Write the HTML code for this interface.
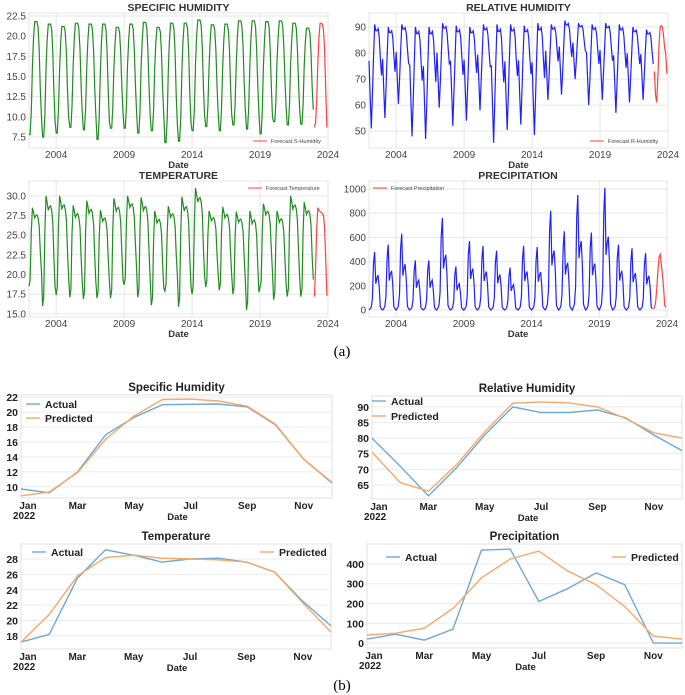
<!DOCTYPE html>
<html><head><meta charset="utf-8">
<style>
body{margin:0;background:#fff;width:685px;height:695px;overflow:hidden;font-family:"Liberation Sans",Arial,sans-serif}
svg{position:absolute;left:0;top:0}
</style></head>
<body>
<svg id="s" width="685" height="695" xmlns="http://www.w3.org/2000/svg">
<text x="342" y="356" font-family="Liberation Serif,serif" font-size="15" text-anchor="middle" fill="#000">(a)</text>
<text x="342" y="690" font-family="Liberation Serif,serif" font-size="15" text-anchor="middle" fill="#000">(b)</text>
</svg>
<script>
// ---------- Data (a): per-year lows/highs 2002..2022 and monthly shape ----------
const years = [2002,2003,2004,2005,2006,2007,2008,2009,2010,2011,2012,2013,2014,2015,2016,2017,2018,2019,2020,2021,2022];
const shProfile = [0,0,0.2,0.6,0.85,1,1,1,0.95,0.75,0.4,0.15];
const shLows = [7.8,7.5,8.0,8.7,8.4,7.2,8.6,8.6,8.0,8.3,6.8,7.0,8.3,8.8,8.3,9.0,8.5,7.9,9.4,9.0,9.1];
const shHighs = [21.8,21.5,21.2,21.6,21.5,21.5,21.1,21.5,21.7,21.1,21.6,21.6,22.0,21.4,21.5,21.9,21.9,21.8,21.9,21.6,21.0];
const shForecast = [8.7,9.2,12,16.5,19.8,21.6,21.6,21.5,20.8,18.3,13.5,8.7];
const rhProfile = [0.65,0.33,0,0.32,0.68,1,0.94,0.94,0.96,0.88,0.68,0.51];
const rhLows = [51,55,60.5,48,47,59,52,54,58,45.5,50.5,52.5,48.5,62,64,70,60,62,57,61,62];
const rhHighs = [91,90,91,90,90,91.5,90.5,90,91,91,91,90.5,91.5,91,92.5,91.5,91,91.5,91,90,89];
const rhForecast = [73,64,61,70,82,90,90.5,90,87,82,80,72];
const tProfile = [0,0.08,0.69,1,0.94,0.87,0.9,0.91,0.87,0.76,0.44,0.18];
const tLows = [18.5,16,17.4,17.1,16.9,17,17,18.7,17.1,16.1,17.9,15.9,17.5,18.4,18,17.5,15.5,18.3,16.8,17.2,17.2];
const tHighs = [28.5,30,30,28.8,29.4,28.2,29.7,30,29.8,28.1,28.7,29.9,31,28.1,28.6,28,28.1,29,28.1,30,29.2];
const tForecast = [17.2,20.5,25.8,28.5,28.2,28.0,27.9,27.8,27.5,26,22,17.3];
const pProfile = [0,0.02,0.05,0.2,0.8,1,0.45,0.55,0.6,0.4,0.05,0.02];
const pLows = [0,0,0,0,0,0,0,0,0,0,0,0,0,0,0,0,0,0,0,0,0];
const pHighs = [480,540,630,410,410,760,360,570,530,490,350,530,520,820,650,950,640,1010,540,510,470];
const pForecast = [10,25,70,180,330,440,460,370,290,180,40,20];
const yearTicks = [2004,2009,2014,2019,2024];

// ---------- Data (b) ----------
const months = ['Jan','Feb','Mar','Apr','May','Jun','Jul','Aug','Sep','Oct','Nov','Dec'];
const monthTicks = ['Jan','Mar','May','Jul','Sep','Nov'];
const shActual = [9.7,9.2,12,17,19.3,21,21.05,21.1,20.7,18.3,13.7,10.5];
const shPred = [8.8,9.3,11.9,16.4,19.5,21.7,21.75,21.5,20.8,18.4,13.7,10.6];
const rhActual = [80,71,61.5,70.5,81,90,88.2,88.2,89,86.5,81,76];
const rhPred = [75.5,65.8,63,71.5,82,91.2,91.6,91.3,90,86.3,81.7,80];
const tActual = [17.2,18.2,25.5,29.2,28.5,27.6,28,28.1,27.6,26.3,22.5,19.3];
const tPred = [17.2,20.8,25.8,28.2,28.5,28.1,28,27.9,27.6,26.3,22.3,18.5];
const pActual = [20,45,15,70,470,475,210,275,355,295,0,0];
const pPred = [40,50,75,175,330,425,465,365,295,185,35,20];

const NS='http://www.w3.org/2000/svg';
const svg=document.getElementById('s');
function el(tag,attrs,parent){const e=document.createElementNS(NS,tag);for(const k in attrs)e.setAttribute(k,attrs[k]);(parent||svg).appendChild(e);return e;}
function txt(x,y,s,attrs,parent){const e=el('text',Object.assign({x:x,y:y},attrs),parent);e.textContent=s;return e;}

function buildSeries(profile,lows,highs){
  const out=[];
  for(let i=0;i<years.length;i++)for(let m=0;m<12;m++)out.push({t:years[i]+m/12,v:lows[i]+(highs[i]-lows[i])*profile[m]});
  return out;
}

function topChart(o){
  const g=el('g',{});
  
  
  const X=t=>o.x0+(t-2002)/22*(o.x1-o.x0);
  const Y=v=>o.y1-(v-o.vmin)/(o.vmax-o.vmin)*(o.y1-o.y0);
  el('rect',{x:o.x0,y:o.y0,width:o.x1-o.x0,height:o.y1-o.y0,fill:'#fff',stroke:'#e4e4e4','stroke-width':1},g);
  yearTicks.forEach(yr=>{const x=X(yr);el('line',{x1:x,x2:x,y1:o.y0,y2:o.y1,stroke:'#e6e6e6','stroke-width':1},g);
    const t=txt(x,o.y1+10,String(yr),{'font-size':10,fill:'#444','text-anchor':'middle'},g);
    });
  o.ticks.forEach(v=>{const y=Y(v);el('line',{x1:o.x0,x2:o.x1,y1:y,y2:y,stroke:'#e6e6e6','stroke-width':1},g);
    const t=txt(o.x0-3,y+3.5,o.fmt(v),{'font-size':10,fill:'#444','text-anchor':'end'},g);
    });
  const tt=txt((o.x0+o.x1)/2,o.y0-2,o.title,{'font-size':10.5,'font-weight':'bold',fill:'#333','text-anchor':'middle'},g);
  
  const xl=txt((o.x0+o.x1)/2,o.y1+20,'Date',{'font-size':9.5,'font-weight':'bold',fill:'#333','text-anchor':'middle'},g);
  
  const s=o.series;
  const p=el('path',{d:s.map((d,i)=>(i?'L':'M')+X(d.t).toFixed(1)+','+Y(d.v).toFixed(1)).join(''),fill:'none',stroke:o.color,'stroke-width':1.2},g);
  
  const f=el('path',{d:o.forecast.map((v,i)=>(i?'L':'M')+X(2023+i/12).toFixed(1)+','+Y(v).toFixed(1)).join(''),fill:'none',stroke:'#ff4040','stroke-width':1.2},g);
  
  const lg=el('g',{},g);
  el('line',{x1:o.lx,x2:o.lx+14,y1:o.ly,y2:o.ly,stroke:'#ff4040','stroke-width':1},lg);
  txt(o.lx+18,o.ly+2,o.legend,{'font-size':5.5,fill:'#444'},lg);
}

topChart({name:'specific-humidity-chart',title:'SPECIFIC HUMIDITY',x0:29,x1:328,y0:13,y1:148,vmin:6.14,vmax:22.87,ticks:[7.5,10,12.5,15,17.5,20,22.5],fmt:v=>v.toFixed(1),color:'#228b22',series:buildSeries(shProfile,shLows,shHighs),forecast:shForecast,legend:'Forecast S-Humidity',lx:253,ly:141});
topChart({name:'relative-humidity-chart',title:'RELATIVE HUMIDITY',x0:369,x1:668,y0:13,y1:148,vmin:43.5,vmax:95.4,ticks:[50,60,70,80,90],fmt:v=>String(v),color:'#2020ff',series:buildSeries(rhProfile,rhLows,rhHighs),forecast:rhForecast,legend:'Forecast R-Humidity',lx:590,ly:141});
topChart({name:'temperature-chart',title:'TEMPERATURE',x0:29,x1:328,y0:181,y1:317,vmin:14.6,vmax:31.9,ticks:[15,17.5,20,22.5,25,27.5,30],fmt:v=>v.toFixed(1),color:'#228b22',series:buildSeries(tProfile,tLows,tHighs),forecast:tForecast,legend:'Forecast Temperature',lx:248,ly:188});
topChart({name:'precipitation-chart',title:'PRECIPITATION',x0:369,x1:667,y0:181,y1:317,vmin:-58,vmax:1066,ticks:[0,200,400,600,800,1000],fmt:v=>String(v),color:'#2020ff',series:buildSeries(pProfile,pLows,pHighs),forecast:pForecast,legend:'Forecast Precipitation',lx:373,ly:188});

function botChart(o){
  const g=el('g',{});
  
  
  const X=i=>o.x0+i/11*(o.x1-o.x0);
  const Y=v=>o.y1-(v-o.vmin)/(o.vmax-o.vmin)*(o.y1-o.y0);
  el('rect',{x:o.x0,y:o.y0,width:o.x1-o.x0,height:o.y1-o.y0,fill:'#fff',stroke:'#e2e2e2','stroke-width':1},g);
  o.ticks.forEach(v=>{const y=Y(v);el('line',{x1:o.x0,x2:o.x1,y1:y,y2:y,stroke:'#ebebeb','stroke-width':1},g);
    const t=txt(o.x0-3,y+4,String(v),{'font-size':10.5,'font-weight':'bold',fill:'#222','text-anchor':'end'},g);
    });
  monthTicks.forEach(mn=>{const i=months.indexOf(mn);
    const t=txt(X(i)+(i===0?7:0),o.y1+11,mn,{'font-size':10,'font-weight':'bold',fill:'#222','text-anchor':'middle'},g);
    });
  txt(o.x0-8,o.y1+21,'2022',{'font-size':10,'font-weight':'bold',fill:'#222'},g);
  const xl=txt((o.x0+o.x1)/2+1,o.y1+22,'Date',{'font-size':9.5,'font-weight':'bold',fill:'#222','text-anchor':'middle'},g);
  
  const tt=txt((o.x0+o.x1)/2,o.y0-4,o.title,{'font-size':11.5,'font-weight':'bold',fill:'#222','text-anchor':'middle'},g);
  
  const a=el('path',{d:o.actual.map((v,i)=>(i?'L':'M')+X(i).toFixed(1)+','+Y(v).toFixed(1)).join(''),fill:'none',stroke:'#6fa8d6','stroke-width':1.4},g);
  
  const p=el('path',{d:o.pred.map((v,i)=>(i?'L':'M')+X(i).toFixed(1)+','+Y(v).toFixed(1)).join(''),fill:'none',stroke:'#f5a868','stroke-width':1.4},g);
  
  o.legend.forEach(L=>{const lg=el('g',{},g);
    el('line',{x1:L.x,x2:L.x+14,y1:L.y,y2:L.y,stroke:L.c,'stroke-width':1.4},lg);
    txt(L.x+19,L.y+4,L.t,{'font-size':10.5,'font-weight':'bold',fill:'#222'},lg);});
}
botChart({name:'specific-humidity-comparison',title:'Specific Humidity',x0:21,x1:332,y0:395,y1:498,vmin:8.5,vmax:22.3,ticks:[10,12,14,16,18,20,22],actual:shActual,pred:shPred,
  legend:[{x:26,y:404,c:'#6fa8d6',t:'Actual'},{x:26,y:418,c:'#f5a868',t:'Predicted'}]});
botChart({name:'relative-humidity-comparison',title:'Relative Humidity',x0:372,x1:682,y0:396,y1:499,vmin:60.5,vmax:93.5,ticks:[65,70,75,80,85,90],actual:rhActual,pred:rhPred,
  legend:[{x:372,y:401,c:'#6fa8d6',t:'Actual'},{x:372,y:416,c:'#f5a868',t:'Predicted'}]});
botChart({name:'temperature-comparison',title:'Temperature',x0:21,x1:331,y0:544,y1:649,vmin:16.3,vmax:29.95,ticks:[18,20,22,24,26,28],actual:tActual,pred:tPred,
  legend:[{x:32,y:552,c:'#6fa8d6',t:'Actual'},{x:260,y:552,c:'#f5a868',t:'Predicted'}]});
botChart({name:'precipitation-comparison',title:'Precipitation',x0:367,x1:682,y0:544,y1:648,vmin:-25,vmax:501,ticks:[0,100,200,300,400],actual:pActual,pred:pPred,
  legend:[{x:386,y:557,c:'#6fa8d6',t:'Actual'},{x:612,y:557,c:'#f5a868',t:'Predicted'}]});
</script>
</body></html>
